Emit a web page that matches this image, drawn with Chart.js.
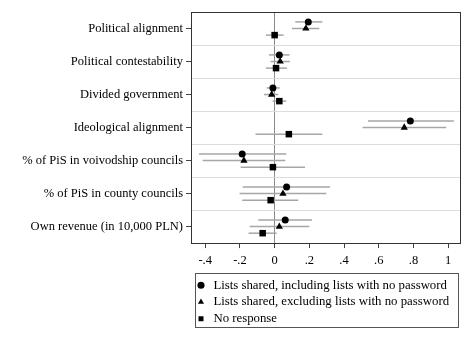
<!DOCTYPE html>
<html>
<head>
<meta charset="utf-8">
<script src="https://cdn.jsdelivr.net/npm/chart.js@4/dist/chart.umd.min.js"></script>
<style>
  html, body { margin: 0; padding: 0; background: #fff; }
  #wrap { width: 474px; height: 344px; position: relative; }
</style>
</head>
<body>
<div id="wrap"><canvas id="c" width="474" height="344"></canvas></div>
<script>
const categories = [
  'Political alignment',
  'Political contestability',
  'Divided government',
  'Ideological alignment',
  '% of PiS in voivodship councils',
  '% of PiS in county councils',
  'Own revenue (in 10,000 PLN)'
];
const xTickValues = [-0.4, -0.2, 0, 0.2, 0.4, 0.6, 0.8, 1];
const xTickLabels = ['-.4', '-.2', '0', '.2', '.4', '.6', '.8', '1'];
const seriesNames = [
  'Lists shared, including lists with no password',
  'Lists shared, excluding lists with no password',
  'No response'
];
// Series 1: lists shared, including lists with no password
const incEst = [0.194, 0.027, -0.010, 0.782, -0.187, 0.069, 0.061];
const incLo  = [0.119, -0.033, -0.046, 0.538, -0.436, -0.184, -0.094];
const incHi  = [0.275, 0.086, 0.029, 1.033, 0.067, 0.319, 0.215];
// Series 2: lists shared, excluding lists with no password
const excEst = [0.180, 0.032, -0.017, 0.747, -0.177, 0.048, 0.027];
const excLo  = [0.100, -0.023, -0.062, 0.507, -0.415, -0.202, -0.144];
const excHi  = [0.257, 0.088, 0.021, 0.989, 0.061, 0.298, 0.200];
// Series 3: no response
const nrEst = [0.000, 0.008, 0.027, 0.082, -0.010, -0.023, -0.069];
const nrLo  = [-0.050, -0.050, -0.012, -0.110, -0.196, -0.187, -0.150];
const nrHi  = [0.052, 0.071, 0.067, 0.275, 0.175, 0.136, 0.012];

const SERIF = "'Liberation Serif', 'Times New Roman', serif";
const bandOffsets = [-0.2, 0, 0.2];
const pointStyles = ['circle', 'triangle', 'rect'];
const pointRadii = [3.5, 4.2, 4.6];

function makeDataset(k, est, lo, hi) {
  return {
    label: seriesNames[k],
    data: est.map((v, i) => ({ x: v, y: i + 0.5 + bandOffsets[k] })),
    lo: lo, hi: hi,
    pointStyle: pointStyles[k],
    pointRadius: pointRadii[k],
    pointHoverRadius: pointRadii[k],
    backgroundColor: '#000',
    borderColor: '#000',
    borderWidth: 0,
    xAxisID: 'x',
    yAxisID: 'y'
  };
}

const errorBars = {
  id: 'errorBars',
  beforeDatasetsDraw(chart) {
    const ctx = chart.ctx, xs = chart.scales.x, ys = chart.scales.y;
    ctx.save();
    ctx.strokeStyle = '#a6a6a6';
    ctx.lineWidth = 1.5;
    chart.data.datasets.forEach(ds => {
      ds.data.forEach((p, j) => {
        const y = ys.getPixelForValue(p.y);
        ctx.beginPath();
        ctx.moveTo(xs.getPixelForValue(ds.lo[j]), y);
        ctx.lineTo(xs.getPixelForValue(ds.hi[j]), y);
        ctx.stroke();
      });
    });
    ctx.restore();
  }
};

const frame = {
  id: 'frame',
  afterDraw(chart) {
    const ctx = chart.ctx, a = chart.chartArea;
    ctx.save();
    ctx.strokeStyle = '#333';
    ctx.lineWidth = 1;
    ctx.strokeRect(Math.round(a.left) + 0.5, Math.round(a.top) + 0.5, Math.round(a.right - a.left) - 1, Math.round(a.bottom - a.top));
    const lg = chart.legend;
    if (lg && lg.legendHitBoxes && lg.legendHitBoxes.length) {
      const hb = lg.legendHitBoxes;
      const top = hb[0].top - 6;
      const bottom = hb[hb.length - 1].top + hb[hb.length - 1].height + 2;
      const left = hb[0].left;
      const right = a.right - 3;
      ctx.strokeStyle = '#555';
      ctx.strokeRect(Math.round(left) + 0.5, Math.round(top) + 0.5, Math.round(right - left), Math.round(bottom - top));
    }
    ctx.restore();
  }
};

new Chart(document.getElementById('c'), {
  type: 'scatter',
  data: {
    datasets: [
      makeDataset(0, incEst, incLo, incHi),
      makeDataset(1, excEst, excLo, excHi),
      makeDataset(2, nrEst, nrLo, nrHi)
    ]
  },
  options: {
    responsive: false,
    animation: false,
    events: [],
    layout: { padding: { top: 12, right: 13, left: 0, bottom: 8.75 } },
    scales: {
      x: {
        type: 'linear',
        position: 'bottom',
        min: -0.482,
        max: 1.074,
        afterBuildTicks: s => { s.ticks = xTickValues.map(v => ({ value: v })); },
        afterFit: s => { s.height = 31.75; },
        ticks: {
          callback: v => xTickLabels[xTickValues.indexOf(v)],
          font: { family: SERIF, size: 12.5 },
          color: '#000',
          padding: 5,
          maxRotation: 0
        },
        grid: {
          drawOnChartArea: true,
          color: c => (c.tick && c.tick.value === 0) ? '#8a8a8a' : 'rgba(0,0,0,0)',
          tickColor: '#444',
          tickLength: 5
        },
        border: { display: false }
      },
      y: {
        type: 'linear',
        position: 'right',
        min: 0,
        max: 7,
        reverse: true,
        afterBuildTicks: s => { s.ticks = categories.concat(['']).map((_, i) => ({ value: i })); },
        afterFit: s => { s.width = 0; },
        ticks: { display: false },
        grid: { color: '#dcdcdc', drawTicks: false, lineWidth: 1 },
        border: { display: false }
      },
      yc: {
        type: 'category',
        position: 'left',
        labels: categories,
        offset: true,
        afterFit: s => { s.width = 191; },
        ticks: {
          font: { family: SERIF, size: 12.5 },
          color: '#000',
          padding: 3,
          autoSkip: false
        },
        grid: { drawOnChartArea: false, offset: false, tickLength: 5, tickColor: '#444' },
        border: { display: false }
      }
    },
    plugins: {
      tooltip: { enabled: false },
      legend: {
        position: 'bottom',
        fullSize: false,
        align: 'start',
        labels: {
          usePointStyle: true,
          boxWidth: 12,
          boxHeight: 5,
          padding: 4,
          color: '#000',
          font: { family: SERIF, size: 12.8 }
        }
      }
    }
  },
  plugins: [errorBars, frame]
});
</script>
</body>
</html>
